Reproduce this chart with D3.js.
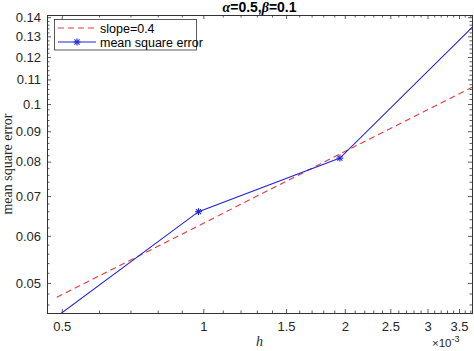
<!DOCTYPE html>
<html>
<head>
<meta charset="utf-8">
<script src="https://cdn.jsdelivr.net/npm/d3@7"></script>
<style>
  html, body { margin: 0; padding: 0; background: #fff; }
  svg { display: block; }
</style>
</head>
<body>
<script>
// ---- data ----
const hValues = [0.000488, 0.000977, 0.001953, 0.003906];
const mseValues = [0.0439, 0.0659, 0.0811, 0.1395];
const slopeValues = [0.0473, 0.0624, 0.0824, 0.1087];
const xTickValues = [0.0005, 0.001, 0.0015, 0.002, 0.0025, 0.003, 0.0035];
const xTickLabels = ["0.5", "1", "1.5", "2", "2.5", "3", "3.5"];
const yTickValues = [0.05, 0.06, 0.07, 0.08, 0.09, 0.1, 0.11, 0.12, 0.13, 0.14];
const yTickLabels = ["0.05", "0.06", "0.07", "0.08", "0.09", "0.1", "0.11", "0.12", "0.13", "0.14"];
const seriesNames = ["slope=0.4", "mean square error"];
const xDomain = [0.000465, 0.00373];
const yDomain = [0.0445, 0.1412];

const W = 474, H = 351;
const L = 47, R = 472, T = 15, B = 313;
const axisColor = "#333333";
const redColor = "#e23b3b";
const blueColor = "#2323dc";

const svg = d3.select("body").append("svg").attr("width", W).attr("height", H);

const x = d3.scaleLog().domain(xDomain).range([L, R]);
const y = d3.scaleLog().domain(yDomain).range([B, T]);

// minor ticks
const xMinor = d3.range(5, 38).map(d => d / 10000).filter(v => v >= xDomain[0] && v <= xDomain[1] && !xTickValues.some(t => Math.abs(t - v) < 1e-9));
const yMinor = d3.range(23, 71).map(d => d * 0.002).filter(v => v >= yDomain[0] && v <= yDomain[1] && !yTickValues.some(t => Math.abs(t - v) < 1e-9));

svg.append("defs").append("clipPath").attr("id", "plotclip")
  .append("rect").attr("x", L).attr("y", T).attr("width", R - L).attr("height", B - T);

// axes (inward ticks, MATLAB style)
const fontTick = "Liberation Sans, Arial, Helvetica, sans-serif";
const xAxisB = d3.axisBottom(x).tickValues(xTickValues).tickFormat((d, i) => xTickLabels[i]).tickSizeInner(-4).tickSizeOuter(0).tickPadding(9);
const xAxisT = d3.axisTop(x).tickValues(xTickValues).tickFormat("").tickSizeInner(-4).tickSizeOuter(0);
const yAxisL = d3.axisLeft(y).tickValues(yTickValues).tickFormat((d, i) => yTickLabels[i]).tickSizeInner(-4).tickSizeOuter(0).tickPadding(6);
const yAxisR = d3.axisRight(y).tickValues(yTickValues).tickFormat("").tickSizeInner(-4).tickSizeOuter(0);
const xMinB = d3.axisBottom(x).tickValues(xMinor).tickFormat("").tickSizeInner(-2.5).tickSizeOuter(0);
const xMinT = d3.axisTop(x).tickValues(xMinor).tickFormat("").tickSizeInner(-2.5).tickSizeOuter(0);
const yMinL = d3.axisLeft(y).tickValues(yMinor).tickFormat("").tickSizeInner(-2.5).tickSizeOuter(0);
const yMinR = d3.axisRight(y).tickValues(yMinor).tickFormat("").tickSizeInner(-2.5).tickSizeOuter(0);

function styleAxis(g) {
  g.selectAll("path.domain").attr("stroke", axisColor).attr("stroke-width", 1);
  g.selectAll(".tick line").attr("stroke", axisColor).attr("stroke-width", 0.8);
  g.selectAll(".tick text").attr("fill", "#262626").attr("font-family", fontTick).attr("font-size", 13);
}

[[xAxisB, `translate(0,${B})`], [xMinB, `translate(0,${B})`],
 [xAxisT, `translate(0,${T})`], [xMinT, `translate(0,${T})`],
 [yAxisL, `translate(${L},0)`], [yMinL, `translate(${L},0)`],
 [yAxisR, `translate(${R},0)`], [yMinR, `translate(${R},0)`]].forEach(([ax, tr]) => {
  svg.append("g").attr("transform", tr).call(ax).call(styleAxis);
});

// data lines
const plot = svg.append("g").attr("clip-path", "url(#plotclip)");
const line = d3.line().x(d => x(d[0])).y(d => y(d[1]));

plot.append("path")
  .datum(hValues.map((h, i) => [h, slopeValues[i]]))
  .attr("d", line).attr("fill", "none").attr("stroke", redColor)
  .attr("stroke-width", 1.1).attr("stroke-dasharray", "6,4");

plot.append("path")
  .datum(hValues.map((h, i) => [h, mseValues[i]]))
  .attr("d", line).attr("fill", "none").attr("stroke", blueColor).attr("stroke-width", 1.1);

function star(g, cx, cy, r, color) {
  const s = g.append("g").attr("transform", `translate(${cx},${cy})`)
    .attr("stroke", color).attr("stroke-width", 1.1);
  s.append("line").attr("x1", -r).attr("x2", r).attr("y1", 0).attr("y2", 0);
  s.append("line").attr("x1", 0).attr("x2", 0).attr("y1", -r).attr("y2", r);
  const k = r * 0.72;
  s.append("line").attr("x1", -k).attr("x2", k).attr("y1", -k).attr("y2", k);
  s.append("line").attr("x1", -k).attr("x2", k).attr("y1", k).attr("y2", -k);
}
hValues.forEach((h, i) => star(plot, x(h), y(mseValues[i]), 3.5, blueColor));

// title
const title = svg.append("text").attr("x", (L + R) / 2).attr("y", 11.5)
  .attr("text-anchor", "middle").attr("font-size", 14).attr("fill", "#000");
title.append("tspan").attr("font-family", "Liberation Serif, Times New Roman, serif").attr("font-style", "italic").attr("font-weight", "bold").text("α");
title.append("tspan").attr("font-family", fontTick).attr("font-weight", "bold").text("=0.5,");
title.append("tspan").attr("font-family", "Liberation Serif, Times New Roman, serif").attr("font-style", "italic").attr("font-weight", "bold").text("β");
title.append("tspan").attr("font-family", fontTick).attr("font-weight", "bold").text("=0.1");

// axis labels
svg.append("text").attr("transform", `translate(12,${(T + B) / 2}) rotate(-90)`)
  .attr("text-anchor", "middle").attr("font-family", "Liberation Serif, Times New Roman, serif")
  .attr("font-size", 14).attr("fill", "#262626").text("mean square error");

svg.append("text").attr("x", (L + R) / 2).attr("y", 346)
  .attr("text-anchor", "middle").attr("font-family", "Liberation Serif, Times New Roman, serif")
  .attr("font-style", "italic").attr("font-size", 14).attr("fill", "#262626").text("h");

const exp = svg.append("text").attr("x", 432).attr("y", 347)
  .attr("font-family", fontTick).attr("font-size", 11.5).attr("fill", "#262626");
exp.append("tspan").text("×10");
exp.append("tspan").attr("font-size", 9).attr("dy", -5).text("-3");

// legend
const lg = svg.append("g");
lg.append("rect").attr("x", 54.5).attr("y", 19.5).attr("width", 142).attr("height", 30.5)
  .attr("fill", "#fff").attr("stroke", axisColor).attr("stroke-width", 0.8);
lg.append("line").attr("x1", 58).attr("x2", 96).attr("y1", 28).attr("y2", 28)
  .attr("stroke", redColor).attr("stroke-width", 1.1).attr("stroke-dasharray", "6,4");
lg.append("line").attr("x1", 58).attr("x2", 96).attr("y1", 42).attr("y2", 42)
  .attr("stroke", blueColor).attr("stroke-width", 1.1);
star(lg, 77, 42, 3.5, blueColor);
seriesNames.forEach((n, i) => {
  lg.append("text").attr("x", 100).attr("y", 32.5 + i * 14)
    .attr("font-family", fontTick).attr("font-size", 12.5).attr("fill", "#000").text(n);
});
</script>
</body>
</html>
